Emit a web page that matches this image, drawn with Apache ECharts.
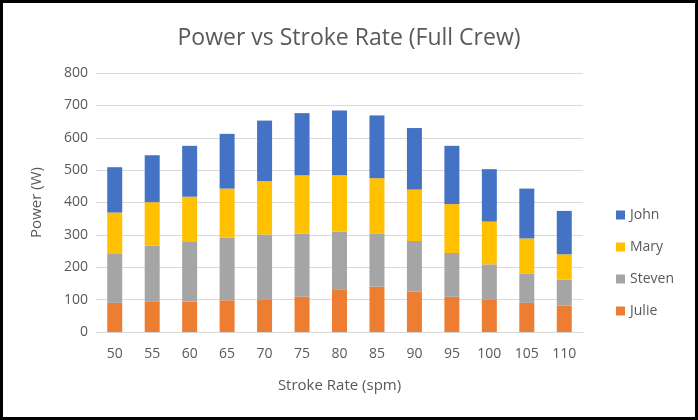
<!DOCTYPE html>
<html>
<head>
<meta charset="utf-8">
<script src="https://cdn.jsdelivr.net/npm/echarts@6/dist/echarts.min.js"></script>
<style>
    html, body { margin: 0; padding: 0; background: #fff; }
    .frame {
        width: 698px;
        height: 420px;
        box-sizing: border-box;
        border: 3px solid #000;
    }
    #chart { width: 100%; height: 100%; }
</style>
</head>
<body>
<div class="frame"><div id="chart"></div></div>
<script>
    // stroke rate (spm)
    const rates = ['50', '55', '60', '65', '70', '75', '80', '85', '90', '95', '100', '105', '110'];
    // power per rower (W)
    const julie  = [90, 93, 94, 98, 101, 109, 130, 140, 125, 109, 101, 90, 82];
    const steven = [151, 174, 184, 194, 200, 195, 180, 163, 156, 135, 108, 91, 80];
    const mary   = [128, 134, 140, 151, 165, 180, 174, 172, 159, 151, 132, 108, 78];
    const john   = [140, 145, 157, 169, 187, 192, 200, 194, 190, 180, 162, 154, 134];

    const textColor = '#595959';
    const gridColor = '#d9d9d9';
    const font = 'Open Sans';

    function bar(name, data, color) {
        return {
            name: name,
            type: 'bar',
            stack: 'crew',
            barWidth: '40%',
            data: data,
            itemStyle: { color: color }
        };
    }

    const chart = echarts.init(document.getElementById('chart'));
    chart.setOption({
        animation: false,
        textStyle: { fontFamily: font },
        title: {
            text: 'Power vs Stroke Rate (Full Crew)',
            left: 'center',
            top: 19,
            textStyle: { color: textColor, fontSize: 23, fontWeight: 'normal', fontFamily: font }
        },
        legend: {
            data: ['John', 'Mary', 'Steven', 'Julie'],
            orient: 'vertical',
            left: 608,
            top: 200,
            itemWidth: 9,
            itemHeight: 9,
            itemGap: 18,
            icon: 'rect',
            textStyle: { color: textColor, fontSize: 14, fontFamily: font }
        },
        grid: {
            left: 93,
            top: 70,
            width: 487,
            height: 259
        },
        xAxis: {
            type: 'category',
            data: rates,
            name: 'Stroke Rate (spm)',
            nameLocation: 'middle',
            nameGap: 46,
            nameTextStyle: { color: textColor, fontSize: 15, fontFamily: font },
            axisTick: { show: false },
            axisLine: { lineStyle: { color: gridColor } },
            axisLabel: { color: textColor, fontSize: 14, margin: 15, fontFamily: font }
        },
        yAxis: {
            type: 'value',
            min: 0,
            max: 800,
            interval: 100,
            name: 'Power (W)',
            nameLocation: 'middle',
            nameGap: 52,
            nameRotate: 90,
            nameTextStyle: { color: textColor, fontSize: 15, fontFamily: font },
            axisLabel: { color: textColor, fontSize: 14, margin: 8, fontFamily: font },
            splitLine: { lineStyle: { color: gridColor } }
        },
        series: [
            bar('Julie', julie, '#ED7D31'),
            bar('Steven', steven, '#A5A5A5'),
            bar('Mary', mary, '#FFC000'),
            bar('John', john, '#4472C4')
        ]
    });
</script>
</body>
</html>
